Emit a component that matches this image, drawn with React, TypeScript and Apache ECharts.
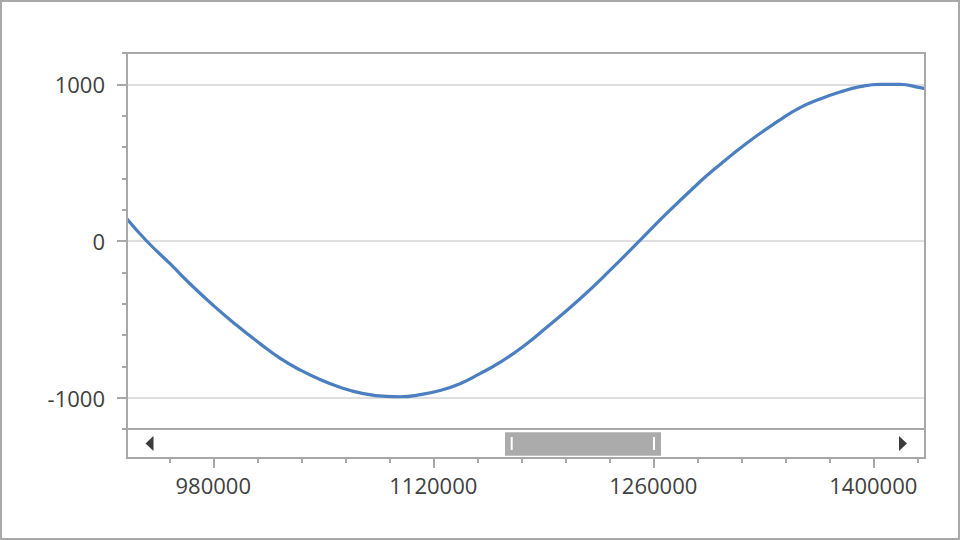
import { useEffect, useRef } from "react";
import * as echarts from "echarts";

// Curve samples
const xValues = [
  925100, 937600, 952500, 965200, 980000, 994900, 1009700, 1022400, 1035200, 1047900,
  1060600, 1073400, 1090300, 1098800, 1111500, 1124300, 1137000, 1149700, 1162400,
  1177000, 1192200, 1213400, 1234500, 1251500, 1268500, 1289700, 1298200, 1319400,
  1340600, 1353400, 1366100, 1378800, 1391500, 1404300, 1417000, 1429700, 1432900,
];
const yValues = [
  140, 0, -145, -273, -411, -538, -655, -748, -823, -884,
  -933, -969, -992, -994, -981, -954, -911, -847, -775,
  -675, -551, -369, -167, 4, 176, 378, 453, 624,
  773, 851, 906, 951, 985, 1000, 1000, 979, 973,
];

const xMin = 925100;
const xMax = 1432900;
const yMin = -1200;
const yMax = 1200;

const xMajorTicks = [980000, 1120000, 1260000, 1400000];
const xMinorTicks = [
  952000, 980000, 1008000, 1036000, 1064000, 1092000, 1120000, 1148000, 1176000,
  1204000, 1232000, 1260000, 1288000, 1316000, 1344000, 1372000, 1400000, 1428000,
];
const yMajorTicks = [-1000, 0, 1000];
const yMinorTicks = [-1200, -1000, -800, -600, -400, -200, 0, 200, 400, 600, 800, 1000, 1200];

// layout
const W = 960;
const H = 540;
const L = 127;
const R = 925;
const T = 53;
const B = 429; // plot bottom (top of scroll strip)
const SB = 458; // bottom of scroll strip

const frameColor = "#a8a8a8";
const textColor = "#404040";
const fontFamily = "'Open Sans', 'Noto Sans', sans-serif";

export default function App() {
  const ref = useRef<HTMLDivElement>(null);

  useEffect(() => {
    document.body.style.margin = "0";
    if (!ref.current) return;
    const chart = echarts.init(ref.current, null, { renderer: "svg" });

    const tickStyle = { color: frameColor, width: 2 };
    const stripMid = (B + SB) / 2;

    chart.setOption({
      animation: false,
      backgroundColor: "#ffffff",
      grid: { left: L, right: W - R, top: T, bottom: H - B, containLabel: false },
      xAxis: [
        {
          type: "value",
          min: xMin,
          max: xMax,
          position: "bottom",
          offset: SB - B,
          axisLine: { show: false, onZero: false },
          axisTick: { show: true, customValues: xMajorTicks, length: 10, lineStyle: tickStyle },
          axisLabel: {
            show: true,
            customValues: xMajorTicks,
            margin: 16,
            color: textColor,
            fontSize: 22,
            fontFamily,
            formatter: (v: number) => String(v),
          },
          splitLine: { show: false },
        },
        {
          type: "value",
          min: xMin,
          max: xMax,
          position: "bottom",
          offset: SB - B,
          axisLine: { show: false, onZero: false },
          axisTick: { show: true, customValues: xMinorTicks, length: 5, lineStyle: tickStyle },
          axisLabel: { show: false },
          splitLine: { show: false },
        },
      ],
      yAxis: [
        {
          type: "value",
          min: yMin,
          max: yMax,
          position: "left",
          axisLine: { show: false, onZero: false },
          axisTick: { show: true, customValues: yMajorTicks, length: 10, lineStyle: tickStyle },
          axisLabel: {
            show: true,
            customValues: yMajorTicks,
            margin: 22,
            color: textColor,
            fontSize: 22,
            fontFamily,
            formatter: (v: number) => String(v),
          },
          splitLine: { show: true, lineStyle: { color: "#d4d4d4", width: 1.5 } },
        },
        {
          type: "value",
          min: yMin,
          max: yMax,
          position: "left",
          axisLine: { show: false, onZero: false },
          axisTick: { show: true, customValues: yMinorTicks, length: 5, lineStyle: tickStyle },
          axisLabel: { show: false },
          splitLine: { show: false },
        },
      ],
      series: [
        {
          type: "line",
          xAxisIndex: 0,
          yAxisIndex: 0,
          data: xValues.map((x, i) => [x, yValues[i]]),
          smooth: 0.5,
          showSymbol: false,
          symbol: "none",
          lineStyle: { color: "#4b7fc0", width: 3.2 },
          clip: true,
          z: 3,
        },
      ],
      graphic: [
        {
          type: "rect",
          shape: { x: 1, y: 1, width: W - 2, height: H - 2 },
          style: { fill: "none", stroke: frameColor, lineWidth: 2 },
          silent: true,
          z: 10,
        },
        {
          type: "rect",
          shape: { x: L, y: T, width: R - L, height: SB - T },
          style: { fill: "none", stroke: frameColor, lineWidth: 2 },
          silent: true,
          z: 10,
        },
        {
          type: "line",
          shape: { x1: L, y1: B, x2: R, y2: B },
          style: { stroke: frameColor, lineWidth: 2 },
          silent: true,
          z: 10,
        },
        {
          type: "polygon",
          shape: { points: [[153.5, stripMid - 7.5], [153.5, stripMid + 7.5], [145.5, stripMid]] },
          style: { fill: "#3c3c3c" },
          silent: true,
          z: 10,
        },
        {
          type: "polygon",
          shape: { points: [[899, stripMid - 7.5], [899, stripMid + 7.5], [907, stripMid]] },
          style: { fill: "#3c3c3c" },
          silent: true,
          z: 10,
        },
        {
          type: "rect",
          shape: { x: 505, y: B + 3.3, width: 156, height: 23.4 },
          style: { fill: "#ababab" },
          silent: true,
          z: 10,
        },
        {
          type: "line",
          shape: { x1: 511.7, y1: stripMid - 6.5, x2: 511.7, y2: stripMid + 6.5 },
          style: { stroke: "#ffffff", lineWidth: 2 },
          silent: true,
          z: 11,
        },
        {
          type: "line",
          shape: { x1: 654, y1: stripMid - 6.5, x2: 654, y2: stripMid + 6.5 },
          style: { stroke: "#ffffff", lineWidth: 2 },
          silent: true,
          z: 11,
        },
      ],
    });

    return () => {
      chart.dispose();
    };
  }, []);

  return <div ref={ref} style={{ width: W, height: H }} />;
}
